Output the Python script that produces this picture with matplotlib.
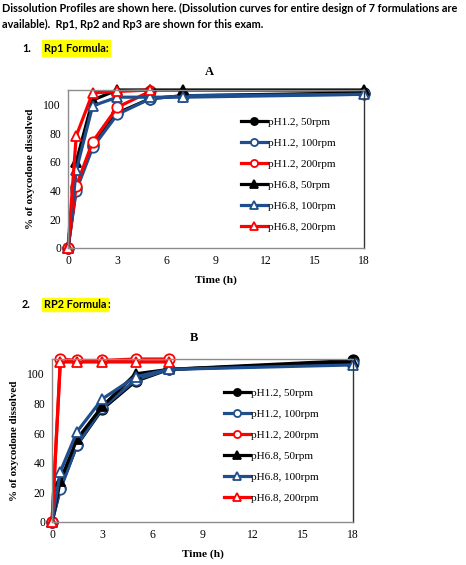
import matplotlib
matplotlib.use("Agg")
import matplotlib.pyplot as plt
from matplotlib.patches import Rectangle

W, H = 466, 565
DPI = 100

# ---------------- data ----------------
labels = ["pH1.2, 50rpm", "pH1.2, 100rpm", "pH1.2, 200rpm",
          "pH6.8, 50rpm", "pH6.8, 100rpm", "pH6.8, 200rpm"]
xticks = [0, 3, 6, 9, 12, 15, 18]
yticks = [0, 20, 40, 60, 80, 100]

# Chart A (Rp1)
tA_long = [0, 0.5, 1.5, 3, 5, 7, 18]
tA_short = [0, 0.5, 1.5, 3, 5]
A_ph12_50 = [0, 42, 72, 94, 104, 106, 108]
A_ph12_100 = [0, 40, 70, 93, 104, 106, 107]
A_ph12_200 = [0, 43, 74, 98, 109]
A_ph68_50 = [0, 60, 103, 110, 110, 110, 110]
A_ph68_100 = [0, 54, 99, 105, 105, 105, 107]
A_ph68_200 = [0, 78, 108, 109, 110]

# Chart B (RP2)
tB_long = [0, 0.5, 1.5, 3, 5, 7, 18]
tB_short = [0, 0.5, 1.5, 3, 5, 7]
B_ph12_50 = [0, 23, 52, 76, 95, 103, 109]
B_ph12_100 = [0, 22, 52, 77, 96, 103, 107]
B_ph12_200 = [0, 110, 109, 109, 110, 110]
B_ph68_50 = [0, 28, 56, 78, 100, 103, 108]
B_ph68_100 = [0, 34, 61, 83, 98, 103, 106]
B_ph68_200 = [0, 108, 108, 108, 108, 108]

BLUE = "#1f4e8c"
RED = "#ff0000"
BLACK = "#000000"

styles = [
    dict(color=BLACK, marker="o", mfc=BLACK, mec=BLACK),
    dict(color=BLUE, marker="o", mfc="white", mec=BLUE),
    dict(color=RED, marker="o", mfc="white", mec=RED),
    dict(color=BLACK, marker="^", mfc=BLACK, mec=BLACK),
    dict(color=BLUE, marker="^", mfc="white", mec=BLUE),
    dict(color=RED, marker="^", mfc="white", mec=RED),
]

fig = plt.figure(figsize=(W / DPI, H / DPI), dpi=DPI)

SERIF = ["Liberation Serif", "DejaVu Serif"]
HEAD = ["Lato", "DejaVu Sans"]


def px_axes(l, t, r, b):
    return fig.add_axes([l / W, 1 - b / H, (r - l) / W, (b - t) / H])


def draw_chart(ax, series, title, title_xy, lg_anchor):
    for (t, y), st, lab in zip(series, styles, labels):
        ax.plot(t, y, lw=2.3, ms=7.5, mew=1.3, label=lab, clip_on=False,
                color=st["color"], marker=st["marker"],
                markerfacecolor=st["mfc"], markeredgecolor=st["mec"])
    ax.set_xlim(0, 18)
    ax.set_ylim(0, 110)
    ax.set_xticks(xticks)
    ax.set_yticks(yticks)
    ax.tick_params(length=0, pad=5)
    for lab in ax.get_xticklabels() + ax.get_yticklabels():
        lab.set_family(SERIF)
        lab.set_fontsize(8.4)
    for sp in ["top", "left", "bottom"]:
        ax.spines[sp].set_color("#8c8c8c")
        ax.spines[sp].set_linewidth(1.0)
    ax.spines["right"].set_color("#333333")
    ax.spines["right"].set_linewidth(1.0)
    ax.set_xlabel("Time (h)", family=SERIF, fontsize=8.2, fontweight="bold",
                  labelpad=6)
    ax.set_ylabel("% of oxycodone dissolved", family=SERIF, fontsize=7.9,
                  fontweight="bold", labelpad=6)
    fig.text(title_xy[0] / W, 1 - title_xy[1] / H, title, family=SERIF,
             fontsize=9, fontweight="bold", ha="center", va="center")
    lg = ax.legend(loc="center left", bbox_to_anchor=lg_anchor, frameon=False,
                   prop=dict(family=SERIF, size=8.0), handlelength=2.3,
                   handletextpad=0.12, labelspacing=1.02, markerscale=0.68,
                   borderpad=0, borderaxespad=0)
    return lg


axA = px_axes(68, 90, 364, 248)
draw_chart(axA,
           [(tA_long, A_ph12_50), (tA_long, A_ph12_100), (tA_short, A_ph12_200),
            (tA_long, A_ph68_50), (tA_long, A_ph68_100), (tA_short, A_ph68_200)],
           "A", (209, 72), (0.585, 0.465))

axB = px_axes(52, 359, 353, 522)
draw_chart(axB,
           [(tB_long, B_ph12_50), (tB_long, B_ph12_100), (tB_short, B_ph12_200),
            (tB_long, B_ph68_50), (tB_long, B_ph68_100), (tB_short, B_ph68_200)],
           "B", (194, 338), (0.572, 0.469))

# ---------------- header text ----------------
FS = 7.85


def ftext(x, y, s, **kw):
    return fig.text(x / W, 1 - y / H, s, family=HEAD, fontweight="bold",
                    va="center", ha="left", fontsize=FS, **kw)


ftext(2, 8, "Dissolution Profiles are shown here. (Dissolution curves for entire design of 7 formulations are")
ftext(2, 24, "available).  Rp1, Rp2 and Rp3 are shown for this exam.")
ftext(22, 48, "1.")
t1 = ftext(44, 48, "Rp1 Formula:")
ftext(22, 305, "2.")
t2 = ftext(44, 305, "RP2 Formula")

fig.canvas.draw()
r = fig.canvas.get_renderer()
e1 = t1.get_window_extent(r)
e2 = t2.get_window_extent(r)
fig.patches.append(Rectangle((42 / W, 1 - 56 / H), (e1.x1 + 1 - 42) / W, 16 / H,
                             transform=fig.transFigure, color="#ffff00", zorder=0))
fig.patches.append(Rectangle((42 / W, 1 - 311 / H), (e2.x1 + 1 - 42) / W, 13 / H,
                             transform=fig.transFigure, color="#ffff00", zorder=0))
ftext(e2.x1 + 1, 305, ":")

fig.savefig("out.png", dpi=DPI)
